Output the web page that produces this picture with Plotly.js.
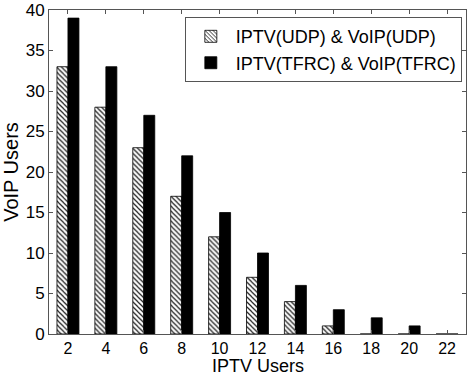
<!DOCTYPE html>
<html>
<head>
<meta charset="utf-8">
<script src="https://cdn.plot.ly/plotly-3.0.1.min.js"></script>
<style>html,body{margin:0;padding:0;background:#fff;}#chart{width:474px;height:378px;}</style>
</head>
<body>
<div id="chart"></div>
<script>
const iptvUsers = [2, 4, 6, 8, 10, 12, 14, 16, 18, 20, 22];
const udpVoip = [33, 28, 23, 17, 12, 7, 4, 1, 0, 0, 0];
const tfrcVoip = [39, 33, 27, 22, 15, 10, 6, 3, 2, 1, 0];
const seriesNames = ['IPTV(UDP) & VoIP(UDP)', 'IPTV(TFRC) & VoIP(TFRC)'];
const yTicks = [0, 5, 10, 15, 20, 25, 30, 35, 40];
const xTitle = 'IPTV Users';
const yTitle = 'VoIP Users';

const font = 'Liberation Sans, Arial, sans-serif';

const traces = [
  {
    type: 'bar', x: iptvUsers, y: udpVoip, name: seriesNames[0],
    marker: {
      color: '#ffffff',
      line: {color: '#000000', width: 0.8},
      pattern: {shape: '\\', fgcolor: '#222222', bgcolor: '#ffffff', size: 3.5, solidity: 0.35}
    }
  },
  {
    type: 'bar', x: iptvUsers, y: tfrcVoip, name: seriesNames[1],
    marker: {color: '#000000', line: {color: '#000000', width: 0.8}}
  }
];

const layout = {
  width: 474, height: 378,
  margin: {l: 49, r: 8, t: 10, b: 44},
  paper_bgcolor: '#ffffff', plot_bgcolor: '#ffffff',
  font: {family: font, color: '#000000', size: 17},
  barmode: 'group', bargap: 0.42, bargroupgap: 0,
  showlegend: true,
  legend: {
    x: 0.99, xanchor: 'right', y: 0.978, yanchor: 'top',
    bgcolor: '#ffffff', bordercolor: '#555555', borderwidth: 1,
    font: {family: font, size: 18, color: '#000000'},
    tracegroupgap: 0, itemwidth: 40
  },
  xaxis: {
    range: [1, 23], tickmode: 'array', tickvals: iptvUsers, ticktext: iptvUsers.map(String),
    ticks: 'inside', ticklen: 4, tickcolor: '#555555',
    showline: true, linecolor: '#555555', linewidth: 1, mirror: 'ticks',
    showgrid: false, zeroline: false,
    tickfont: {family: font, size: 16}
  },
  yaxis: {
    range: [0, 40], tickmode: 'array', tickvals: yTicks,
    ticks: 'inside', ticklen: 4, tickcolor: '#555555',
    showline: true, linecolor: '#555555', linewidth: 1, mirror: 'ticks',
    showgrid: false, zeroline: false,
    tickfont: {family: font, size: 17},
    title: {text: yTitle, font: {family: font, size: 20}, standoff: 4}
  },
  annotations: [{
    text: xTitle, xref: 'paper', yref: 'paper', x: 0.5, y: -0.063,
    xanchor: 'center', yanchor: 'top', showarrow: false,
    font: {family: font, size: 18, color: '#000000'}
  }]
};

Plotly.newPlot('chart', traces, layout, {displayModeBar: false, staticPlot: true});
</script>
</body>
</html>
